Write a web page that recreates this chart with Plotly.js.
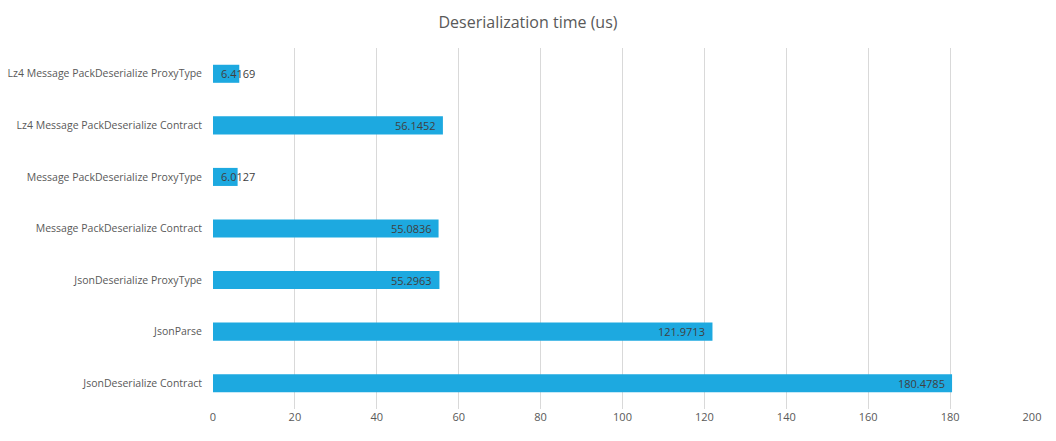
<!DOCTYPE html>
<html><head><meta charset="utf-8">
<script src="https://cdn.plot.ly/plotly-3.0.1.min.js"></script>
<style>body{margin:0;background:#fff}#c{width:1056px;height:441px}</style>
</head><body><div id="c"></div>
<script>
const categories = [
  "JsonDeserialize Contract",
  "JsonParse",
  "JsonDeserialize ProxyType",
  "Message PackDeserialize Contract",
  "Message PackDeserialize ProxyType",
  "Lz4 Message PackDeserialize Contract",
  "Lz4 Message PackDeserialize ProxyType"
];
const times = [180.4785, 121.9713, 55.2963, 55.0836, 6.0127, 56.1452, 6.4169];
const labels = ["180.4785","121.9713","55.2963","55.0836","6.0127","56.1452","6.4169"];

const FONT = 'Open Sans, sans-serif';
const trace = {
  type: 'bar', orientation: 'h',
  y: categories, x: times,
  marker: {color: '#1DA9E0'},
  hoverinfo: 'x+y'
};
const annotations = categories.map((c, i) => {
  const small = times[i] < 15;
  return {
    x: small ? 0 : times[i], y: c, xref: 'x', yref: 'y',
    text: labels[i], showarrow: false,
    xanchor: small ? 'left' : 'right', xshift: small ? 6 : -5,
    font: {family: FONT, size: 11, color: '#404040'}
  };
});
const layout = {
  width: 1056, height: 441,
  margin: {l: 213, r: 24, t: 48, b: 32},
  paper_bgcolor: '#fff', plot_bgcolor: '#fff',
  title: {text: 'Deserialization time (us)', x: 0.5, xanchor: 'center', y: 0.95, yanchor: 'middle',
          font: {family: FONT, size: 16, color: '#595959'}},
  bargap: 0.65,
  showlegend: false,
  annotations: annotations,
  xaxis: {range: [0, 200], dtick: 20, tick0: 0, showgrid: true, gridcolor: '#d9d9d9', zeroline: false,
          showline: false, ticks: '', tickfont: {family: FONT, size: 11, color: '#595959'}},
  yaxis: {type: 'category', showgrid: false, showline: false, ticks: '', ticklabelstandoff: 10,
          tickfont: {family: FONT, size: 10.5, color: '#595959'}, automargin: false}
};
Plotly.newPlot('c', [trace], layout, {displayModeBar: false, staticPlot: true});
</script></body></html>
